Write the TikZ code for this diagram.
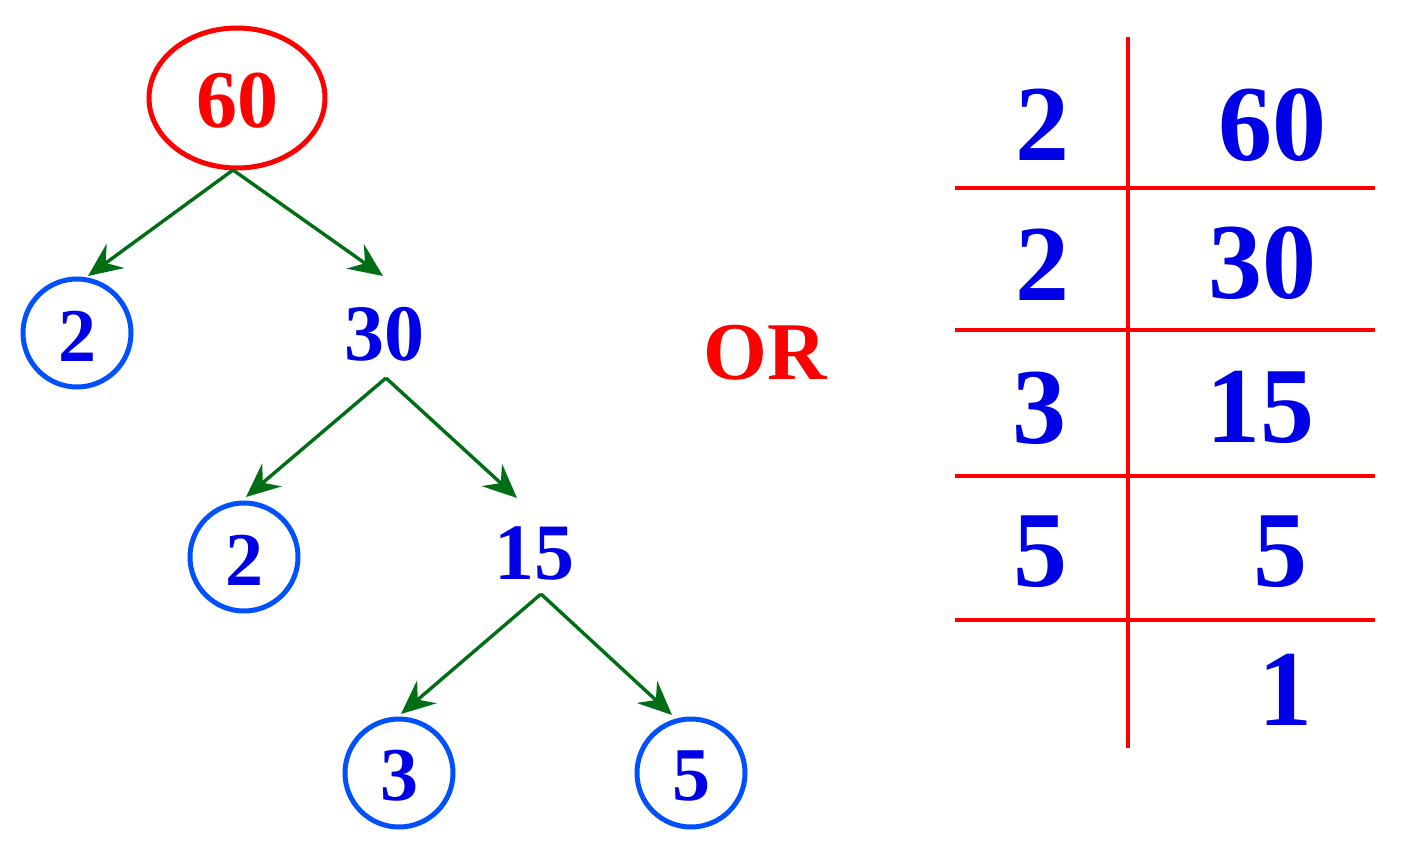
\documentclass[tikz,border=0pt]{standalone}
\usepackage{fontspec}
\setmainfont{Liberation Serif}
\usetikzlibrary{arrows.meta,shapes.geometric}
\definecolor{nb}{RGB}{0,0,230}
\definecolor{cb}{RGB}{0,80,255}
\definecolor{gr}{RGB}{0,110,20}
\begin{document}
\begin{tikzpicture}[x=1pt,y=-1pt,
 num/.style={font=\bfseries\fontsize{#1}{#1}\selectfont,text=nb,inner sep=0pt},
 circ/.style={draw=cb,line width=5pt,circle,minimum size=108pt,inner sep=0pt},
 arr/.style={draw=gr,line width=3.4pt,-{Stealth[length=34pt,width=30pt,inset=12pt]}},
 rl/.style={draw=red,line width=3.6pt}]
\useasboundingbox (0,0) rectangle (1401,861);
\node[draw=red,line width=5pt,ellipse,minimum width=176pt,minimum height=140pt] (e) at (237,98) {};
\node[font=\bfseries\fontsize{82}{82}\selectfont,text=red] at (237,101) {60};
\node[circ] (c1) at (77,333) {}; \node[num=76] at (77,336) {2};
\node[num=80] (n30) at (384,334) {30};
\node[circ] (c2) at (244,557) {}; \node[num=76] at (244,560) {2};
\node[num=80] (n15) at (534,553) {15};
\node[circ] (c3) at (399,773) {}; \node[num=76] at (399,776) {3};
\node[circ] (c4) at (691,773) {}; \node[num=76] at (691,776) {5};
\coordinate (a0) at (233,170); \coordinate (a1) at (386,378); \coordinate (a2) at (541,594);
\coordinate (t1) at (88,276); \coordinate (t2) at (383,276);
\coordinate (t3) at (246,497); \coordinate (t4) at (517,498);
\coordinate (t5) at (401,714); \coordinate (t6) at (672,715);
\draw[arr] (a0) -- (t1); \draw[arr] (a0) -- (t2);
\draw[arr] (a1) -- (t3); \draw[arr] (a1) -- (t4);
\draw[arr] (a2) -- (t5); \draw[arr] (a2) -- (t6);
\node[font=\bfseries\fontsize{82}{82}\selectfont,text=red] at (765,353) {OR};
\coordinate (v1) at (1128,37); \coordinate (v2) at (1128,748);
\draw[rl] (v1) -- (v2);
\foreach \y in {188,330,476,620}{\draw[rl] (955,\y) -- (1375,\y);}
\node[num=108] at (1042,125) {2}; \node[num=108] at (1272,125) {60};
\node[num=108] at (1042,265) {2}; \node[num=108] at (1262,263) {30};
\node[num=108] at (1039,408) {3}; \node[num=108] at (1260,407) {15};
\node[num=108] at (1040,552) {5}; \node[num=108] at (1280,552) {5};
\node[num=108] at (1285,690) {1};
\end{tikzpicture}
\end{document}
